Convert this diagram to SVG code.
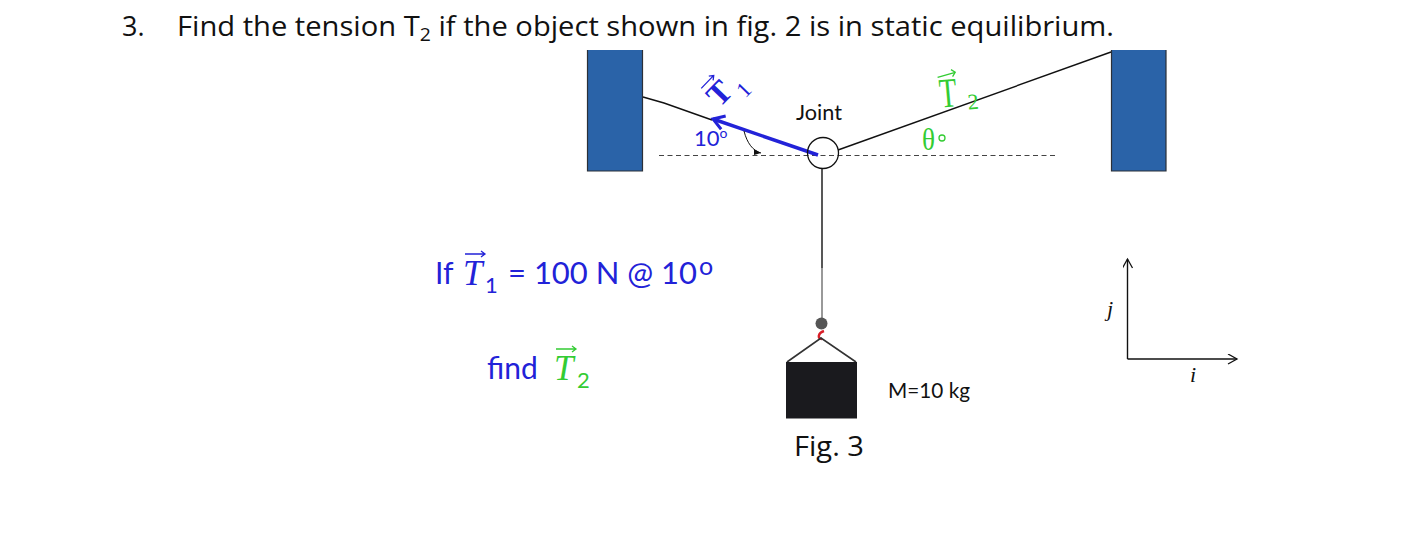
<svg xmlns="http://www.w3.org/2000/svg" width="1424" height="548" viewBox="0 0 1424 548">
<style>
text{font-family:"Lato","Open Sans",sans-serif}
.ttl{font-size:27px;fill:#111;font-family:"Open Sans","Noto Sans",sans-serif}
.lbl{font-size:21px;fill:#111}
.big{font-size:30px}
.blue{fill:#2222d8}
.green{fill:#33cc33}
.serif{font-family:"Liberation Serif",serif}
.math{font-family:"Liberation Serif",serif;font-style:italic}
.wire{fill:none;stroke:#111;stroke-width:1.4}
.wall{fill:#2a63a8}
.edge{fill:none;stroke:#2b3038;stroke-width:1.2}
.thin{fill:none;stroke-width:1.3}
.bs{stroke:#2222d8}
.gs{stroke:#33cc33}
</style>
<defs>
<marker id="open" markerWidth="12" markerHeight="12" refX="10" refY="5" orient="auto" markerUnits="userSpaceOnUse"><path d="M1 0L10 5L1 10" fill="none" stroke="#111" stroke-width="1.3"/></marker>
<marker id="blueHead" markerWidth="18" markerHeight="18" refX="14" refY="8" orient="auto" markerUnits="userSpaceOnUse"><path d="M3 1L14 8L3 15" fill="none" stroke="#2222d8" stroke-width="3"/></marker>
</defs>
<rect width="1424" height="548" fill="#fff"/>
<g id="title">
<text class="ttl" x="122" y="36">3.</text>
<text class="ttl" x="177" y="36" textLength="937" lengthAdjust="spacingAndGlyphs">Find the tension T<tspan font-size="18" dy="5">2</tspan><tspan dy="-5"> if the object shown in fig. 2 is in static equilibrium.</tspan></text>
</g>
<g id="connectors">
<path class="wire" d="M643 97L664 103L712 120"/>
<path class="wire" d="M838 150L1111 52"/>
<path class="wire" d="M822 169V268"/>
<path d="M822 268V318" stroke="#999" stroke-width="2" fill="none"/>
<path d="M659 155.500H1058" stroke="#444" stroke-width="1" stroke-dasharray="5 3.500" fill="none"/>
<path d="M818 155L713 119" stroke="#2222d8" stroke-width="3.500" fill="none" marker-end="url(#blueHead)"/>
<path d="M744 131C747 143 753 151 761 153" fill="none" stroke="#111" stroke-width="1"/>
<path d="M754 149L761 153L754 155Z" fill="#111"/>
</g>
<g id="wall-left"><rect class="wall" x="587.500" y="50" width="55" height="121"/><path class="edge" d="M587.500 50V171H642.500V50"/></g>
<g id="wall-right"><rect class="wall" x="1111.500" y="50" width="54.500" height="121"/><path class="edge" d="M1111.500 50V171H1166V50"/></g>
<g id="joint">
<circle cx="823" cy="153" r="15.500" fill="none" stroke="#111" stroke-width="1.300"/>
<text class="lbl" x="796" y="120" textLength="46" lengthAdjust="spacingAndGlyphs">Joint</text>
</g>
<g id="t1-label">
<g transform="translate(719 93) rotate(-46)">
<text class="blue serif" font-size="32" font-weight="bold" text-anchor="middle" x="0" y="11">T</text>
<path class="thin bs" d="M-9 -16H9M5 -19L9 -16L5 -13"/>
</g>
<text class="blue serif" font-size="22" text-anchor="middle" transform="translate(744 90) rotate(-46)" x="0" y="7">1</text>
<text class="blue" font-size="22" x="694" y="146">10<tspan font-size="14" dy="-8">o</tspan></text>
</g>
<g id="t2-label">
<g transform="translate(948 93) rotate(-5)">
<text class="green serif" font-size="42" text-anchor="middle" transform="scale(.68 1)" x="0" y="14">T</text>
<path class="thin gs" d="M-9 -16.500L9 -20M5 -23L9 -20L6 -16"/>
</g>
<text class="green serif" font-size="22" text-anchor="middle" transform="translate(973 102) rotate(-5)" x="0" y="7">2</text>
<text class="green serif" font-size="32" transform="translate(922 150) scale(.85 1)" x="0" y="0">θ</text>
<circle cx="942" cy="138" r="3" fill="none" stroke="#33cc33" stroke-width="1.300"/>
</g>
<g id="given">
<text class="blue big" x="435" y="284">If</text>
<text class="blue math" font-size="35" x="463" y="285">T</text>
<path class="thin bs" d="M465 254H485M481 251L485 254L481 257"/>
<text class="blue" font-size="22" x="485" y="293">1</text>
<text class="blue big" x="508" y="284" textLength="189" lengthAdjust="spacingAndGlyphs">= 100 N @ 10</text>
<text class="blue" font-size="25" x="699" y="275">o</text>
<text class="blue big" x="487" y="379">find</text>
<text class="green math" font-size="35" x="554" y="380">T</text>
<path class="thin gs" d="M556 349H576M572 346L576 349L572 352"/>
<text class="green" font-size="22" x="577" y="388">2</text>
</g>
<g id="load">
<circle cx="821.500" cy="323.500" r="6" fill="#555"/>
<path d="M824 331C818 333 817 339 822 339" fill="none" stroke="#d81e28" stroke-width="2.500"/>
<path d="M787 362L821 338L856 362" fill="none" stroke="#333" stroke-width="1.600"/>
<rect x="786" y="362" width="71" height="56.500" fill="#1a1a1e"/>
<text class="lbl" x="888" y="398" textLength="82" lengthAdjust="spacingAndGlyphs">M=10 kg</text>
<text class="ttl" x="794" y="456" textLength="70" lengthAdjust="spacingAndGlyphs">Fig. 3</text>
</g>
<g id="axes">
<path class="wire" d="M1127.500 359V259" marker-end="url(#open)"/>
<path class="wire" d="M1127.500 359H1237" marker-end="url(#open)"/>
<text class="math" font-size="22" fill="#111" x="1107" y="316">j</text>
<text class="math" font-size="22" fill="#111" x="1190" y="382">i</text>
</g>
</svg>
